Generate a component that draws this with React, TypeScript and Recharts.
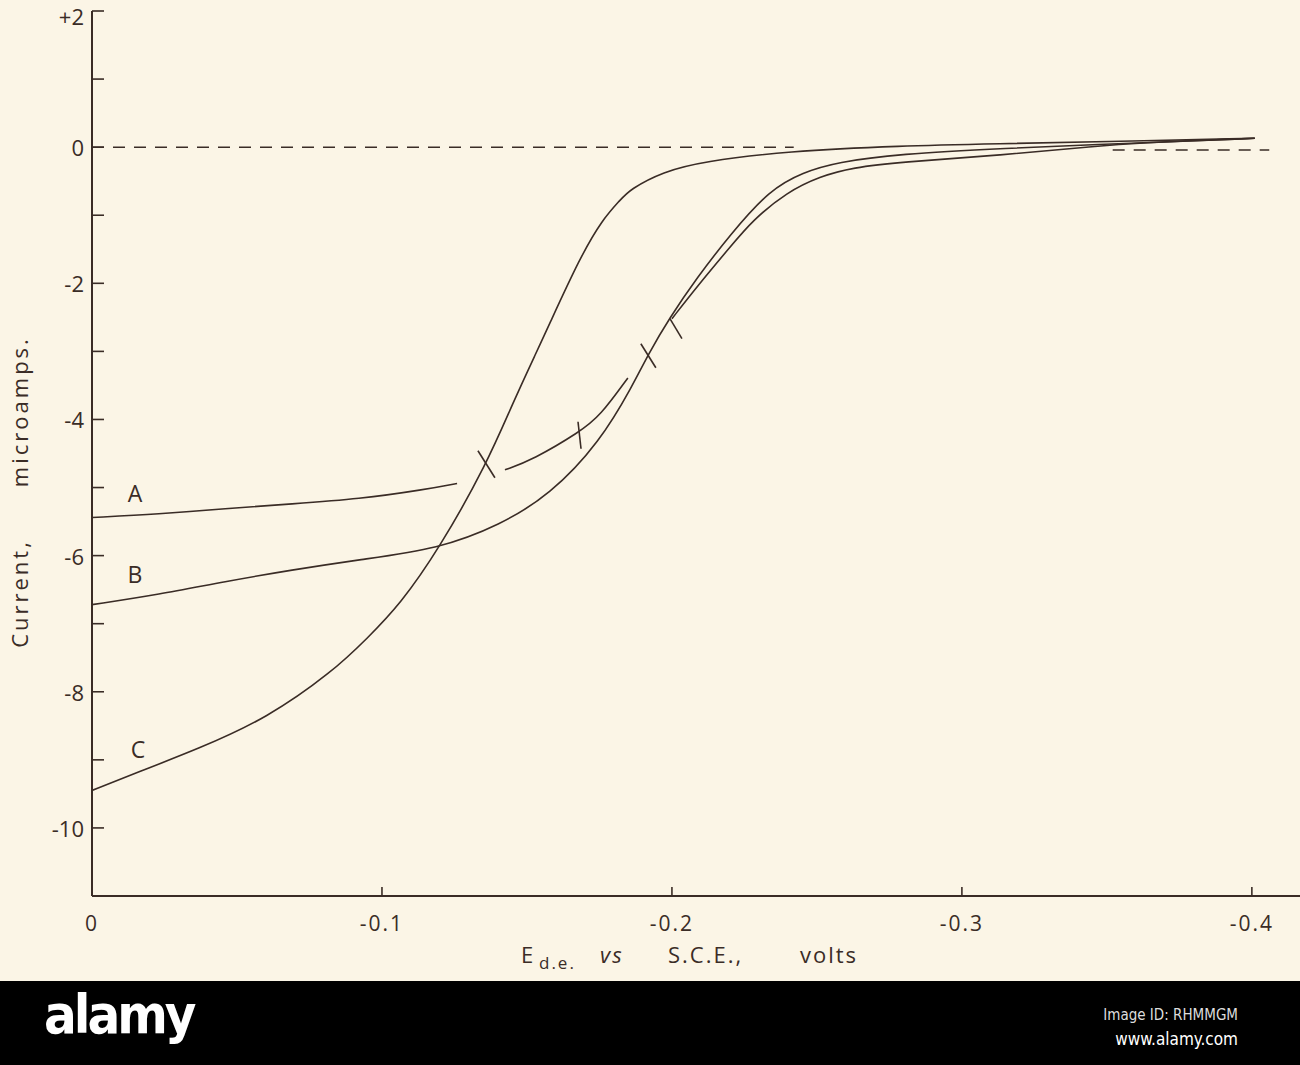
import { ComposedChart, Line, Scatter, XAxis, YAxis, ReferenceDot } from "recharts";

// potential E (volts vs S.C.E.) and current (microamps)
const curveA1 = [
  { e: 0, i: -5.44 }, { e: -0.0231, i: -5.39 }, { e: -0.0459, i: -5.31 }, { e: -0.069, i: -5.24 },
  { e: -0.0921, i: -5.17 }, { e: -0.1148, i: -5.03 }, { e: -0.1259, i: -4.94 },
];
const curveA2 = [
  { e: -0.1424, i: -4.74 }, { e: -0.1521, i: -4.59 }, { e: -0.1683, i: -4.18 },
  { e: -0.1752, i: -3.95 }, { e: -0.1848, i: -3.39 },
];
const curveA3 = [
  { e: -0.2, i: -2.52 }, { e: -0.2086, i: -2.05 }, { e: -0.22, i: -1.47 }, { e: -0.2279, i: -1.07 },
  { e: -0.2397, i: -0.66 }, { e: -0.251, i: -0.43 }, { e: -0.2624, i: -0.3 }, { e: -0.2786, i: -0.22 },
  { e: -0.3131, i: -0.12 }, { e: -0.3476, i: 0.02 }, { e: -0.359, i: 0.06 }, { e: -0.401, i: 0.13 },
];
const curveB = [
  { e: 0, i: -6.72 }, { e: -0.0231, i: -6.57 }, { e: -0.0459, i: -6.38 }, { e: -0.069, i: -6.21 },
  { e: -0.0921, i: -6.06 }, { e: -0.1197, i: -5.9 }, { e: -0.1407, i: -5.55 }, { e: -0.1579, i: -5.11 },
  { e: -0.1752, i: -4.33 }, { e: -0.1866, i: -3.49 }, { e: -0.1917, i: -3.05 }, { e: -0.1993, i: -2.5 },
  { e: -0.2086, i: -1.92 }, { e: -0.22, i: -1.29 }, { e: -0.2338, i: -0.62 }, { e: -0.2452, i: -0.37 },
  { e: -0.2569, i: -0.22 }, { e: -0.2786, i: -0.1 }, { e: -0.3131, i: -0.02 }, { e: -0.359, i: 0.06 },
  { e: -0.401, i: 0.13 },
];
const curveC = [
  { e: 0, i: -9.45 }, { e: -0.0141, i: -9.21 }, { e: -0.0372, i: -8.83 }, { e: -0.0603, i: -8.39 },
  { e: -0.0831, i: -7.7 }, { e: -0.0948, i: -7.22 }, { e: -0.1062, i: -6.72 }, { e: -0.1197, i: -5.9 },
  { e: -0.1362, i: -4.65 }, { e: -0.1452, i: -3.75 }, { e: -0.1534, i: -3.0 }, { e: -0.1569, i: -2.68 },
  { e: -0.1683, i: -1.62 }, { e: -0.1759, i: -1.07 }, { e: -0.1821, i: -0.78 }, { e: -0.1855, i: -0.62 },
  { e: -0.1969, i: -0.36 }, { e: -0.2107, i: -0.21 }, { e: -0.2397, i: -0.06 }, { e: -0.2786, i: 0.02 },
  { e: -0.3131, i: 0.05 }, { e: -0.3476, i: 0.08 }, { e: -0.401, i: 0.13 },
];
const zeroLeft = [{ e: 0, i: 0 }, { e: -0.242, i: 0 }];
const zeroRight = [{ e: -0.352, i: -0.04 }, { e: -0.406, i: -0.04 }];
const crossMarks = [
  { e: -0.1362, i: -4.68 }, { e: -0.1917, i: -3.05 }, { e: -0.1683, i: -4.18 }, { e: -0.2, i: -2.52 },
];

const xTicks = [0, -0.1, -0.2, -0.3, -0.4];
const xTickLabels = ["0", "-0.1", "-0.2", "-0.3", "-0.4"];
const yTicks = [2, 1, 0, -1, -2, -3, -4, -5, -6, -7, -8, -9, -10];
const yTickLabels: Record<number, string> = { 2: "+2", 0: "0", [-2]: "-2", [-4]: "-4", [-6]: "-6", [-8]: "-8", [-10]: "-10" };

const ink = "#3a2c26";
const paper = "#fbf5e6";
const font = "'Open Sans', sans-serif";

// short strokes drawn across the curves, offsets from the point
const markStrokes = [
  [-9, -15, 8, 12],
  [-7, -11, 8, 13],
  [-2, -10, 1, 17],
  [-2, 0, 10, 20],
];

function MarkShape(props: any) {
  const { cx, cy, payload } = props;
  const k = crossMarks.findIndex((m) => m.e === payload?.e);
  const s = markStrokes[k] || [0, 0, 0, 0];
  return <line x1={cx + s[0]} y1={cy + s[1]} x2={cx + s[2]} y2={cy + s[3]} stroke={ink} strokeWidth={1.6} />;
}

function YTick(props: any) {
  const { x, y, payload } = props;
  const label = yTickLabels[payload.value] ?? "";
  if (!label) return null;
  // the top label sits a little under its tick, as in the original
  const shift = payload.value === 2 ? 5 : 0;
  return (
    <text x={x} y={y + shift} textAnchor="end" dominantBaseline="central" fill={ink} fontSize={22} fontFamily={font}>
      {label}
    </text>
  );
}

const curveProps = {
  dataKey: "i",
  type: "basis" as const,
  stroke: ink,
  strokeWidth: 1.6,
  dot: false,
  activeDot: false,
  isAnimationActive: false,
};

export default function App() {
  return (
    <div style={{ position: "absolute", left: 0, top: 0, width: 1300, height: 1065, background: paper, overflow: "hidden", fontFamily: font }}>
      <ComposedChart width={1300} height={980} margin={{ top: 11, right: 0, bottom: 24, left: 0 }}>
        <XAxis
          type="number"
          dataKey="e"
          domain={[-0.4166, 0]}
          reversed
          ticks={xTicks}
          tickFormatter={(v: number) => xTickLabels[xTicks.indexOf(v)] ?? ""}
          height={60}
          tickSize={-9}
          tickMargin={29}
          allowDataOverflow
          axisLine={{ stroke: ink, strokeWidth: 2 }}
          tickLine={{ stroke: ink, strokeWidth: 1.6 }}
          tick={{ fill: ink, fontSize: 21, fontFamily: font, letterSpacing: 2 }}
          label={{
            content: () => (
              <text y={963} fill={ink} fontFamily={font} fontSize={22} letterSpacing={2}>
                <tspan x={521}>E</tspan>
                <tspan x={539} dy={6} fontSize={17}>d.e.</tspan>
                <tspan x={600} dy={-6} fontStyle="italic">vs</tspan>
                <tspan x={668}>S.C.E.,</tspan>
                <tspan x={800}>volts</tspan>
              </text>
            ),
          }}
        />
        <YAxis
          type="number"
          domain={[-11, 2]}
          ticks={yTicks}
          width={92}
          tickSize={-12}
          tickMargin={20}
          interval={0}
          allowDataOverflow
          axisLine={{ stroke: ink, strokeWidth: 2 }}
          tickLine={{ stroke: ink, strokeWidth: 1.6 }}
          tick={YTick}
          label={{
            content: () => (
              <text transform="translate(28,492) rotate(-90)" textAnchor="middle" fill={ink} fontFamily={font} fontSize={22} letterSpacing={3}>
                <tspan>Current,</tspan>
                <tspan dx={52}>microamps.</tspan>
              </text>
            ),
          }}
        />
        <Line data={zeroLeft} {...curveProps} type="linear" strokeDasharray="12 9" strokeWidth={1.5} />
        <Line data={zeroRight} {...curveProps} type="linear" strokeDasharray="12 9" strokeWidth={1.5} />
        <Line data={curveA1} {...curveProps} />
        <Line data={curveA2} {...curveProps} />
        <Line data={curveA3} {...curveProps} />
        <Line data={curveB} {...curveProps} />
        <Line data={curveC} {...curveProps} />
        <Scatter data={crossMarks} dataKey="i" shape={MarkShape} isAnimationActive={false} />
        <ReferenceDot x={-0.0148} y={-5.09} r={0} ifOverflow="visible" label={{ value: "A", position: "center", fill: ink, fontSize: 23, fontFamily: font }} />
        <ReferenceDot x={-0.0148} y={-6.28} r={0} ifOverflow="visible" label={{ value: "B", position: "center", fill: ink, fontSize: 23, fontFamily: font }} />
        <ReferenceDot x={-0.0159} y={-8.85} r={0} ifOverflow="visible" label={{ value: "C", position: "center", fill: ink, fontSize: 23, fontFamily: font }} />
      </ComposedChart>
      <div style={{ position: "absolute", left: 0, top: 981, width: 1300, height: 84, background: "#000" }}>
        <div style={{ position: "absolute", left: 44, top: 2, color: "#fff", fontFamily: "'DejaVu Sans Condensed', 'DejaVu Sans', sans-serif", fontWeight: 700, fontSize: 54, letterSpacing: -3 }}>
          alamy
        </div>
        <div style={{ position: "absolute", right: 62, top: 22, color: "#ddd", fontFamily: "'DejaVu Sans Condensed', sans-serif", fontSize: 15, textAlign: "right", lineHeight: "24px" }}>
          <div>Image ID: RHMMGM</div>
          <div style={{ color: "#fff", fontSize: 17 }}>www.alamy.com</div>
        </div>
      </div>
    </div>
  );
}
